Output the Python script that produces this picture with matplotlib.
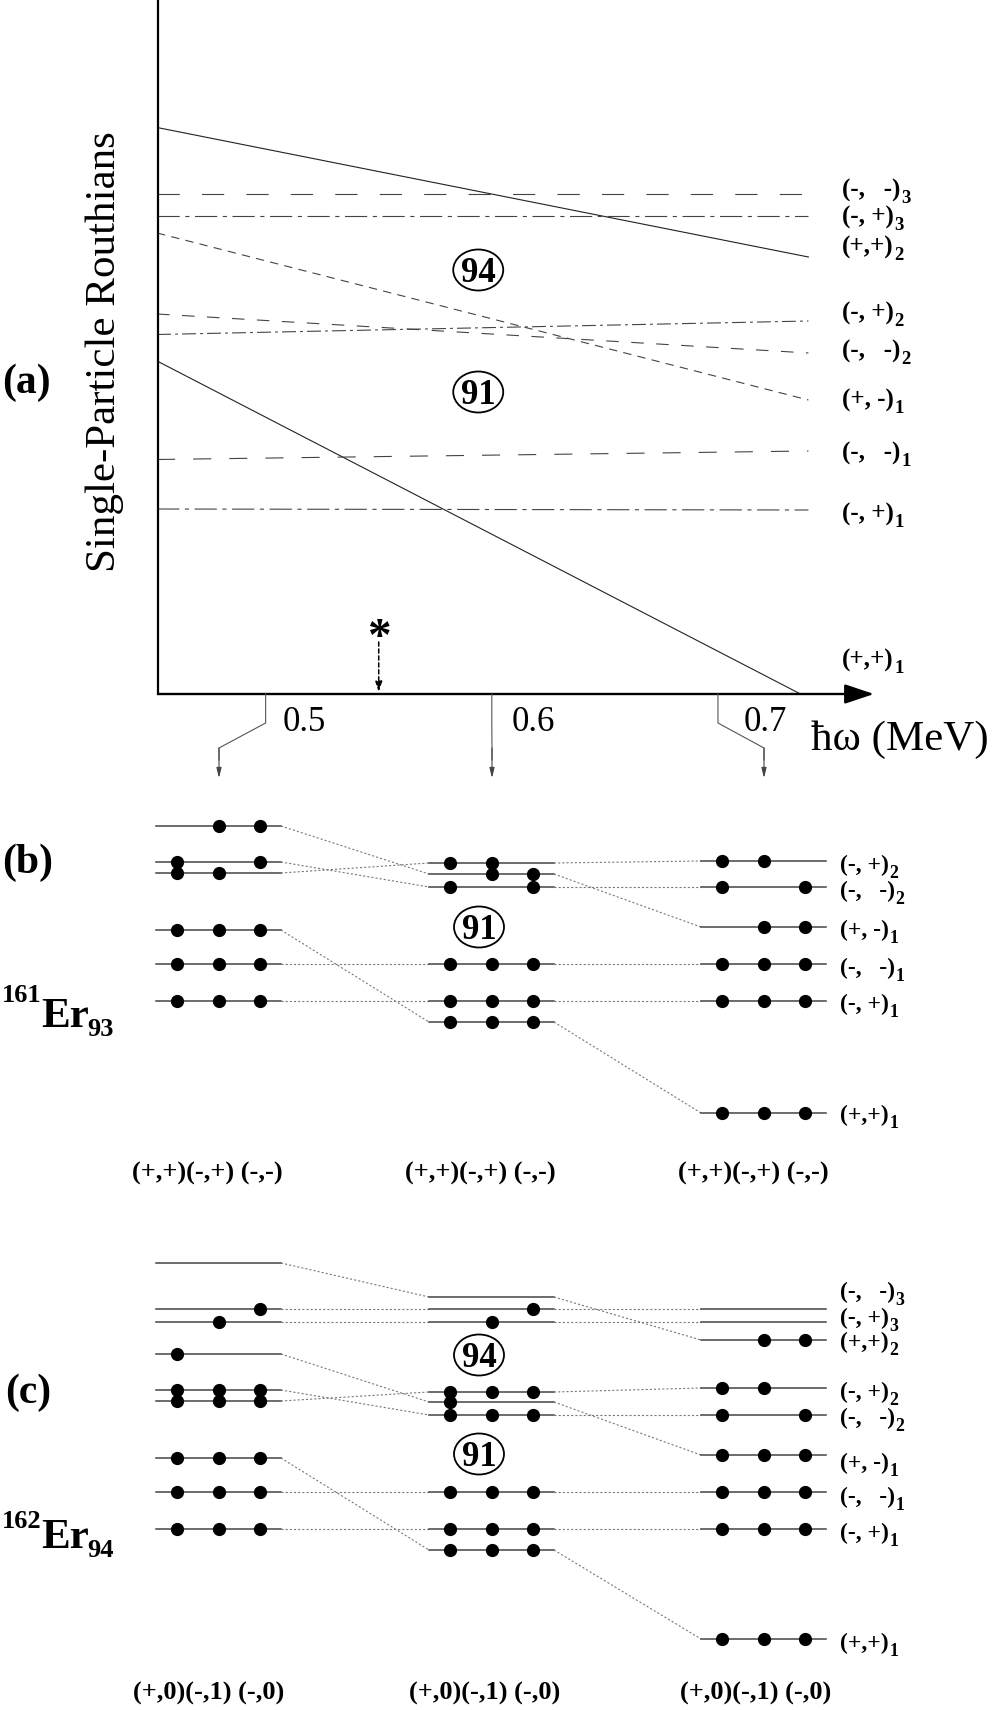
import numpy as np
import matplotlib.pyplot as plt
from matplotlib.patches import Ellipse

plt.rcParams['font.family'] = ['Liberation Serif', 'DejaVu Serif']
plt.rcParams['lines.scale_dashes'] = False

# ---------------- panel (a): single-particle Routhians vs hbar*omega ----------------
a_names = ['(+,+)2', '(-,-)3', '(-,+)3', '(+,-)1', '(-,+)2', '(-,-)2', '(+,+)1', '(-,-)1', '(-,+)1']
a_omega_start = [0.452] * 9
a_omega_end = [0.740, 0.740, 0.740, 0.740, 0.740, 0.740, 0.7365, 0.740, 0.740]
a_e_start = [5.665, 5.00, 4.78, 4.61, 3.595, 3.80, 3.33, 2.345, 1.85]
a_e_end = [4.37, 5.00, 4.78, 2.94, 3.73, 3.41, 0.0, 2.43, 1.84]
a_label_e = [4.47, 5.04, 4.77, 2.94, 3.81, 3.43, 0.34, 2.41, 1.80]
a_ticks = [0.5, 0.6, 0.7]
star_omega = 0.55
circ_a = [('94', 0.594, 4.24), ('91', 0.594, 3.02)]

# ---------------- panel (b): 161Er93 level scheme at three frequencies ----------------
b_names = ['(+,-)1', '(-,-)2', '(-,+)2', '(+,+)1', '(-,-)1', '(-,+)1']
b_left = [364, 328, 317, 260, 226, 189]
b_mid = [316, 303, 327, 168, 226, 189]
b_right = [263, 303, 329, 77, 226, 189]
b_occ_left = [(1, 2), (0, 2), (0, 1), (0, 1, 2), (0, 1, 2), (0, 1, 2)]
b_occ_mid = [(1, 2), (0, 2), (0, 1), (0, 1, 2), (0, 1, 2), (0, 1, 2)]
b_occ_right = [(1, 2), (0, 2), (0, 1), (0, 1, 2), (0, 1, 2), (0, 1, 2)]
b_label_e = [260, 299, 325, 75, 222, 186]
b_columns = '(+,+)(-,+) (-,-)'

# ---------------- panel (c): 162Er94 level scheme ----------------
c_names = ['(+,+)2', '(-,-)3', '(-,+)3', '(+,-)1', '(-,-)2', '(-,+)2', '(+,+)1', '(-,-)1', '(-,+)1']
c_left = [417, 371, 358, 326, 290, 279, 222, 188, 151]
c_mid = [383, 371, 358, 278, 265, 288, 130, 188, 151]
c_right = [340, 371, 358, 225, 265, 292, 41, 188, 151]
c_occ_left = [(), (2,), (1,), (0,), (0, 1, 2), (0, 1, 2), (0, 1, 2), (0, 1, 2), (0, 1, 2)]
c_occ_mid = [(), (2,), (1,), (0,), (0, 1, 2), (0, 1, 2), (0, 1, 2), (0, 1, 2), (0, 1, 2)]
c_occ_right = [(1, 2), (), (), (0, 1, 2), (0, 2), (0, 1), (0, 1, 2), (0, 1, 2), (0, 1, 2)]
c_label_e = [338, 388, 362, 217, 262, 288, 37, 183, 147]
c_columns = '(+,0)(-,1) (-,0)'

label_main = {'(-,-)': '(-,   -)', '(-,+)': '(-, +)', '(+,-)': '(+, -)', '(+,+)': '(+,+)'}
a_dashes = {'(+,+)2': None, '(-,-)3': (16, 16), '(-,+)3': (16, 4, 3, 4), '(+,-)1': (6, 4.5),
            '(-,+)2': (10, 3, 2, 3), '(-,-)2': (9, 9), '(+,+)1': None, '(-,-)1': (13, 13),
            '(-,+)1': (16, 4, 3, 4)}

col_x0 = [156, 429, 701]
col_w = 125
slot_dx = [21, 63, 104]

H = 1710.0
fig = plt.figure(figsize=(10, 17.1), dpi=100)


def rect(x0, y0, x1, y1):
    return [x0 / 1000, 1 - y1 / H, (x1 - x0) / 1000, (y1 - y0) / H]


def level_label(ax, x, y, name, fs=17, transform=None):
    t = ax.text(x, y, label_main[name[:-1]], ha='left', va='center', fontsize=fs,
                fontweight='bold', transform=transform if transform else ax.transData)
    ax.annotate(name[-1], xy=(1, 0.12), xycoords=t, xytext=(0.5, 0), textcoords='offset points',
                ha='left', va='center', fontsize=fs * 0.75, fontweight='bold')


def circled(ax, x, y, s):
    dx, dy = ax.transData.transform((x, y))
    x2, y2 = ax.transData.inverted().transform((dx + 50, dy + 41))
    ax.add_patch(Ellipse((x, y), x2 - x, y2 - y, fill=False, lw=1.3, color='k', clip_on=False))
    ax.annotate(s, (x, y), xytext=(0, -8.5), textcoords='offset points', ha='center',
                va='baseline', fontsize=25, fontweight='bold')


# ---- panel (a)
axa = fig.add_axes(rect(158, 0, 874, 694))
axa.set_xlim(0.4524, 0.769)
axa.set_ylim(0, 6.94)
for s in ['top', 'right', 'bottom']:
    axa.spines[s].set_visible(False)
axa.spines['left'].set_linewidth(1.6)
axa.set_xticks([])
axa.set_yticks([])
axa.patch.set_visible(False)
axa.annotate('', xy=(1, 0), xycoords='axes fraction', xytext=(0, 0),
             arrowprops=dict(arrowstyle='-|>,head_length=0.9,head_width=0.3', lw=1.7, color='k',
                             shrinkA=0, shrinkB=0, mutation_scale=20))

for i, n in enumerate(a_names):
    ln, = axa.plot([a_omega_start[i], a_omega_end[i]], [a_e_start[i], a_e_end[i]],
                   color='#222' if a_dashes[n] is None else '#444', lw=0.8)
    if a_dashes[n] is not None:
        ln.set_dashes(a_dashes[n])
    level_label(axa, 0.9553, a_label_e[i], n, fs=18, transform=axa.get_yaxis_transform())

for s, w, e in circ_a:
    circled(axa, w, e, s)

# overlay in pixel coordinates for axis decorations
ov = fig.add_axes([0, 0, 1, 1])
ov.set_xlim(0, 1000)
ov.set_ylim(H, 0)
ov.axis('off')

col_centers = [x + slot_dx[1] for x in col_x0]
lab_off = [17, 20, 26]
for i, w in enumerate(a_ticks):
    px = axa.transData.transform((w, 0))[0]
    tx = col_centers[i]
    ov.plot([px, px, tx, tx], [694, 723, 748, 760], color='#555', lw=0.8)
    ov.annotate('', xy=(tx, 778), xytext=(tx, 748),
                arrowprops=dict(arrowstyle='-|>,head_length=0.6,head_width=0.15', lw=0.8,
                                color='#444', shrinkA=0, shrinkB=0))
    ov.text(px + lab_off[i], 731, '%.1f' % w, fontsize=25, ha='left', va='baseline')

spx = axa.transData.transform((star_omega, 0))[0]
ov.text(spx, 650, '*', fontsize=34, fontweight='bold', ha='center', va='baseline')
ov.annotate('', xy=(spx, 692), xytext=(spx, 642),
            arrowprops=dict(arrowstyle='-|>,head_length=0.6,head_width=0.2', lw=1.1, color='k',
                            ls=(0, (3, 2)), shrinkA=0, shrinkB=0))
ov.text(811, 750, 'ħω (MeV)', fontsize=31, ha='left', va='baseline')
ov.text(105, 352, 'Single-Particle Routhians', rotation=90, fontsize=31, ha='center', va='center')
ov.text(26, 383, '(a)', fontsize=30, fontweight='bold', ha='center', va='center')


def draw_scheme(ax, names, cols, occs, label_e):
    for k in range(len(names)):
        for c in range(3):
            e = cols[c][k]
            ax.plot([col_x0[c], col_x0[c] + col_w], [e, e], color='#444', lw=1.1)
            xs = [col_x0[c] + slot_dx[s] for s in occs[c][k]]
            ax.plot(xs, [e] * len(xs), 'o', ms=8.5, color='k')
            if c < 2:
                ax.plot([col_x0[c] + col_w, col_x0[c + 1]], [e, cols[c + 1][k]],
                        color='#777', lw=0.8, ls=(0, (1.5, 1.5)))
        level_label(ax, 840, label_e[k], names[k], fs=17)


# ---- panel (b)
axb = fig.add_axes(rect(0, 790, 1000, 1190))
axb.set_xlim(0, 1000)
axb.set_ylim(0, 400)
axb.axis('off')
draw_scheme(axb, b_names, [b_left, b_mid, b_right], [b_occ_left, b_occ_mid, b_occ_right], b_label_e)
circled(axb, 479, 263, '91')
for x in [207, 480, 753]:
    axb.text(x, 17, b_columns, fontsize=19, fontweight='bold', ha='center', va='center')
axb.text(28, 327, '(b)', fontsize=30, fontweight='bold', ha='center', va='center')
er = axb.text(41, 163, 'Er', fontsize=31, fontweight='bold', ha='left', va='baseline')
axb.text(42, 188, '161', fontsize=19, fontweight='bold', ha='right', va='baseline')
axb.annotate('93', xy=(1, 0), xycoords=er, xytext=(-1, 0), textcoords='offset points',
             fontsize=19, fontweight='bold', ha='left', va='baseline')

# ---- panel (c)
axc = fig.add_axes(rect(0, 1250, 1000, 1680))
axc.set_xlim(0, 1000)
axc.set_ylim(0, 430)
axc.axis('off')
draw_scheme(axc, c_names, [c_left, c_mid, c_right], [c_occ_left, c_occ_mid, c_occ_right], c_label_e)
circled(axc, 479, 325, '94')
circled(axc, 479, 226, '91')
for x in [209, 485, 756]:
    axc.text(x, -13, c_columns, fontsize=19, fontweight='bold', ha='center', va='center')
axc.text(28, 287, '(c)', fontsize=30, fontweight='bold', ha='center', va='center')
er = axc.text(41, 132, 'Er', fontsize=31, fontweight='bold', ha='left', va='baseline')
axc.text(42, 152, '162', fontsize=19, fontweight='bold', ha='right', va='baseline')
axc.annotate('94', xy=(1, 0), xycoords=er, xytext=(-1, 0), textcoords='offset points',
             fontsize=19, fontweight='bold', ha='left', va='baseline')

fig.savefig('out.png', dpi=100)
